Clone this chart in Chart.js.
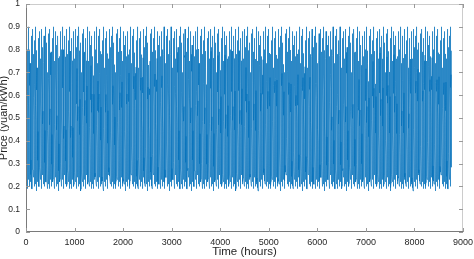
<!DOCTYPE html>
<html>
<head>
<meta charset="utf-8">
<script src="https://cdn.jsdelivr.net/npm/chart.js@4.4.1/dist/chart.umd.min.js"></script>
<style>
  html, body { margin: 0; padding: 0; background: #fff; }
  #wrap { width: 474px; height: 259px; }
</style>
</head>
<body>
<div id="wrap"><canvas id="chart" width="474" height="259"></canvas></div>
<script>
// ---------- Data ----------
// Axis ticks
const xTicks = [0, 1000, 2000, 3000, 4000, 5000, 6000, 7000, 8000, 9000];
const yTicks = [0, 0.1, 0.2, 0.3, 0.4, 0.5, 0.6, 0.7, 0.8, 0.9, 1];

// Hourly price shape within a day (0 = valley, 1 = peak)
const hourShape = [0.06, 0.02, 0, 0, 0.02, 0.05, 0.15, 0.35, 0.6, 0.82, 1.0, 0.7,
                   0.5, 0.4, 0.5, 0.62, 0.7, 0.6, 0.85, 0.65, 0.5, 0.38, 0.25, 0.12];

// Daily peak / valley prices read from the upper and lower envelope (yuan/kWh)
const dayPeak   = [0.88, 0.80, 0.90, 0.74, 0.86, 0.89, 0.78, 0.84, 0.90, 0.72,
                   0.85, 0.88, 0.76, 0.89, 0.81, 0.86, 0.90, 0.83, 0.70, 0.87,
                   0.89, 0.79, 0.85, 0.90, 0.75, 0.88, 0.82, 0.86, 0.77];
const dayValley = [0.21, 0.19, 0.23, 0.20, 0.22, 0.19, 0.24, 0.20, 0.21, 0.18,
                   0.22, 0.20, 0.23, 0.19, 0.25, 0.21, 0.20, 0.22, 0.19];
const nDays = 365;

// ---------- Build hourly series ----------
const points = [];
let hour = 0;
for (let d = 0; d < nDays; d++) {
  const peak = dayPeak[d % dayPeak.length];
  const valley = dayValley[d % dayValley.length];
  for (let h = 0; h < 24; h++) {
    hour++;
    points.push({ x: hour, y: valley + (peak - valley) * hourShape[h] });
  }
}

// ---------- Axes box with inward ticks (MATLAB style) ----------
const boxPlugin = {
  id: 'box',
  afterDraw(chart) {
    const { ctx, chartArea: a, scales } = chart;
    ctx.save();
    ctx.lineWidth = 1;
    ctx.strokeStyle = '#cccccc';
    ctx.beginPath();
    ctx.moveTo(a.left, a.top + 0.5); ctx.lineTo(a.right, a.top + 0.5);
    ctx.moveTo(a.right - 0.5, a.top); ctx.lineTo(a.right - 0.5, a.bottom);
    ctx.stroke();
    ctx.strokeStyle = '#7a7a7a';
    ctx.beginPath();
    ctx.moveTo(a.left + 0.5, a.top); ctx.lineTo(a.left + 0.5, a.bottom);
    ctx.moveTo(a.left, a.bottom - 0.5); ctx.lineTo(a.right, a.bottom - 0.5);
    ctx.stroke();
    ctx.strokeStyle = '#9a9a9a';
    ctx.beginPath();
    for (const v of xTicks) {
      const px = Math.round(scales.x.getPixelForValue(v)) + 0.5;
      ctx.moveTo(px, a.bottom); ctx.lineTo(px, a.bottom - 4);
      ctx.moveTo(px, a.top); ctx.lineTo(px, a.top + 4);
    }
    for (const v of yTicks) {
      const py = Math.round(scales.y.getPixelForValue(v)) + 0.5;
      ctx.moveTo(a.left, py); ctx.lineTo(a.left + 4, py);
      ctx.moveTo(a.right, py); ctx.lineTo(a.right - 4, py);
    }
    ctx.stroke();
    ctx.restore();
  }
};

const fontFamily = 'Liberation Sans, Arial, sans-serif';

new Chart(document.getElementById('chart'), {
  type: 'line',
  data: {
    datasets: [{
      data: points,
      borderColor: '#0070BA',
      borderWidth: 0.6,
      pointRadius: 0,
      tension: 0,
      fill: false
    }]
  },
  options: {
    responsive: false,
    animation: false,
    parsing: false,
    normalized: true,
    events: [],
    layout: { padding: { top: 4, right: 11, left: 0, bottom: 0 } },
    plugins: { legend: { display: false }, tooltip: { enabled: false } },
    scales: {
      x: {
        type: 'linear',
        min: 0,
        max: 9000,
        afterBuildTicks: (s) => { s.ticks = xTicks.map((v) => ({ value: v })); },
        afterFit: (s) => { s.height = 27; s.paddingLeft = 0; s.paddingRight = 0; },
        grid: { display: false, drawTicks: false },
        border: { display: false },
        ticks: {
          font: { family: fontFamily, size: 9 }, color: '#262626', padding: 5,
          maxRotation: 0, autoSkip: false,
          callback: (v) => String(v)
        },
        title: {
          display: true, text: 'Time (hours)', color: '#262626',
          font: { family: fontFamily, size: 11.5 },
          padding: { top: 1, bottom: 0 }
        }
      },
      y: {
        type: 'linear',
        min: 0,
        max: 1,
        afterBuildTicks: (s) => { s.ticks = yTicks.map((v) => ({ value: v })); },
        afterFit: (s) => { s.width = 26; s.paddingTop = 0; s.paddingBottom = 0; },
        grid: { display: false, drawTicks: false },
        border: { display: false },
        ticks: {
          font: { family: fontFamily, size: 8.5 }, color: '#262626', padding: 6,
          callback: (v) => String(+v.toFixed(1))
        },
        title: {
          display: true, text: 'Price (yuan/kWh)', color: '#262626',
          font: { family: fontFamily, size: 11, lineHeight: 0.8 },
          padding: { top: 0, bottom: 0 }
        }
      }
    }
  },
  plugins: [boxPlugin]
});
</script>
</body>
</html>
